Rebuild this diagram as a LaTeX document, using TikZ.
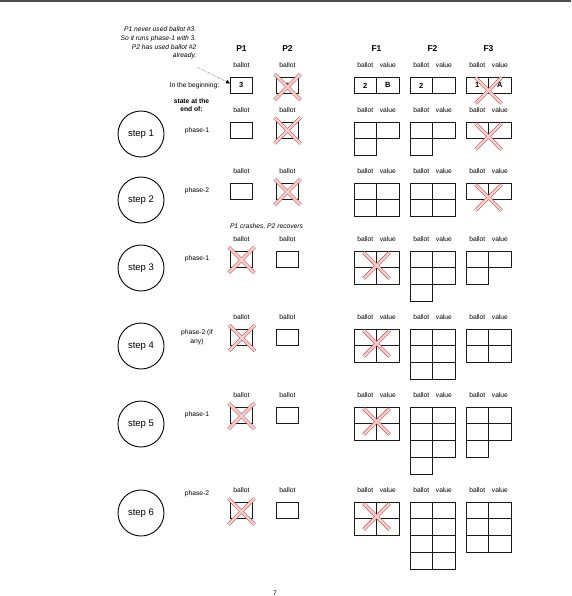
\documentclass[tikz,border=0pt]{standalone}
\usepackage{fontspec}
\setmainfont{Liberation Sans}
\usetikzlibrary{arrows.meta}
\definecolor{vetofill}{HTML}{F8CECC}
\definecolor{vetoline}{HTML}{B85450}

% one slot of a process or of a file
\newcommand{\mkslot}[4]{\node[slot] (#1) at (#2,#3) {#4};}
% one row of a file: ballot and value
\newcommand{\mkrow}[5]{\node[slot] (#1b) at (#2,#3) {#4};
  \node[slot] (#1v) at (#2+22.6,#3) {#5};}
% red cross over a crashed store
\newcommand{\veto}[2]{\draw[vetomark] (#1-13,#2-13) -- (#1+13,#2+13) (#1-13,#2+13) -- (#1+13,#2-13);}
% names over the slots of one step
\newcommand{\slotnames}[2]{%
  \node[tag] (p1n#1) at (241.5,#2) {ballot};
  \node[tag] (p2n#1) at (287.5,#2) {ballot};
  \node[tag] (f1n#1) at (365.3,#2) {ballot};
  \node[tag] (f1m#1) at (387.9,#2) {value};
  \node[tag] (f2n#1) at (421.3,#2) {ballot};
  \node[tag] (f2m#1) at (443.9,#2) {value};
  \node[tag] (f3n#1) at (477.3,#2) {ballot};
  \node[tag] (f3m#1) at (499.9,#2) {value};}

\tikzset{
  slot/.style={draw=black!90, line width=0.9pt, anchor=north west, minimum width=22.6pt, minimum height=16.8pt, inner sep=0pt, outer sep=0pt, font=\bfseries\fontsize{7.5}{9}\selectfont},
  tag/.style={inner sep=0pt, font=\fontsize{6.7}{8.6}\selectfont},
  stepnode/.style={draw, circle, line width=0.9pt, minimum size=46pt, inner sep=0pt, font=\fontsize{9.5}{11}\selectfont},
  head/.style={inner sep=0pt, font=\bfseries\fontsize{8.5}{10}\selectfont},
  vetomark/.style={draw=vetoline, line width=0.55pt, double=vetofill, double distance=2.4pt},
}

\begin{document}
\begin{tikzpicture}[x=1pt,y=-1pt]
		%%%%% START %%%%%
		\useasboundingbox (0,0) rectangle (571,596);
		\fill[black!70] (0,0) rectangle (571,2.5);
		
		\node[tag, font=\itshape\fontsize{6.7}{8.6}\selectfont, align=right, anchor=east] (note) at (196.5,43) {P1 never used ballot \#3.\\So it runs phase-1 with 3.\\P2 has used ballot \#2\\already.};
		\node[tag, anchor=east] (start) at (219.5,86) {In the beginning:};
		\node[tag, font=\bfseries\fontsize{6.7}{7.8}\selectfont, align=center] (endof) at (191.5,105.5) {state at the\\end of:};
		
		\node[head] (hp1) at (241.5,49) {P1};
		\node[head] (hp2) at (287.5,49) {P2};
		\node[head] (hf1) at (376.5,49) {F1};
		\node[head] (hf2) at (432.5,49) {F2};
		\node[head] (hf3) at (488.5,49) {F3};
		
		% in the beginning
		\slotnames{0}{65.5}
		\mkslot{p1s0}{230}{77}{3}
		\mkslot{p2s0}{276}{77}{2}
		\mkrow{f1s0}{354}{77}{2}{B}
		\mkrow{f2s0}{410}{77}{2}{}
		\mkrow{f3s0}{466}{77}{1}{A}
		\veto{287.5}{87}
		\veto{488.5}{90.5}
		\coordinate (notetail) at (197,67);
		\draw[densely dotted, -{Triangle[length=4pt,width=3.5pt]}] (notetail) -- ([yshift=2pt]p1s0.west);
		
		% step 1
		\node[stepnode] (step1) at (141,134) {step 1};
		\node[tag] (ph1) at (197,131) {phase-1};
		\slotnames{1}{110.5}
		\mkslot{p1s1}{230}{122}{}
		\mkslot{p2s1}{276}{122}{}
		\mkrow{f1s1r1}{354}{122}{}{}
		\mkslot{f1s1r2b}{354}{138.8}{}
		\mkrow{f2s1r1}{410}{122}{}{}
		\mkslot{f2s1r2b}{410}{138.8}{}
		\mkrow{f3s1r1}{466}{122}{}{}
		\veto{287.5}{130.5}
		\veto{488.5}{136.5}
		
		% step 2
		\node[stepnode] (step2) at (141,200) {step 2};
		\node[tag] (ph2) at (197,191) {phase-2};
		\slotnames{2}{171.5}
		\mkslot{p1s2}{230}{183}{}
		\mkslot{p2s2}{276}{183}{}
		\mkrow{f1s2r1}{354}{183}{}{}
		\mkrow{f1s2r2}{354}{199.8}{}{}
		\mkrow{f2s2r1}{410}{183}{}{}
		\mkrow{f2s2r2}{410}{199.8}{}{}
		\mkrow{f3s2r1}{466}{183}{}{}
		\veto{287.5}{192}
		\veto{488.5}{197.5}
		
		\node[tag, font=\itshape\fontsize{6.7}{8.6}\selectfont] (crash) at (266.5,227) {P1 crashes, P2 recovers};
		
		% step 3
		\node[stepnode] (step3) at (141,268) {step 3};
		\node[tag] (ph3) at (197,259) {phase-1};
		\slotnames{3}{239.5}
		\mkslot{p1s3}{230}{251}{}
		\mkslot{p2s3}{276}{251}{}
		\mkrow{f1s3r1}{354}{251}{}{}
		\mkrow{f1s3r2}{354}{267.8}{}{}
		\mkrow{f2s3r1}{410}{251}{}{}
		\mkrow{f2s3r2}{410}{267.8}{}{}
		\mkslot{f2s3r3b}{410}{284.6}{}
		\mkrow{f3s3r1}{466}{251}{}{}
		\mkslot{f3s3r2b}{466}{267.8}{}
		\veto{241.5}{260}
		\veto{376.7}{265.5}
		
		% step 4
		\node[stepnode] (step4) at (141,346) {step 4};
		\node[tag, align=center] (ph4) at (197,337.5) {phase-2 (if\\any)};
		\slotnames{4}{317.5}
		\mkslot{p1s4}{230}{329}{}
		\mkslot{p2s4}{276}{329}{}
		\mkrow{f1s4r1}{354}{329}{}{}
		\mkrow{f1s4r2}{354}{345.8}{}{}
		\mkrow{f2s4r1}{410}{329}{}{}
		\mkrow{f2s4r2}{410}{345.8}{}{}
		\mkrow{f2s4r3}{410}{362.6}{}{}
		\mkrow{f3s4r1}{466}{329}{}{}
		\mkrow{f3s4r2}{466}{345.8}{}{}
		\veto{242}{338}
		\veto{376.7}{343.5}
		
		% step 5
		\node[stepnode] (step5) at (141,424) {step 5};
		\node[tag] (ph5) at (197,415) {phase-1};
		\slotnames{5}{395.5}
		\mkslot{p1s5}{230}{407}{}
		\mkslot{p2s5}{276}{407}{}
		\mkrow{f1s5r1}{354}{407}{}{}
		\mkrow{f1s5r2}{354}{423.8}{}{}
		\mkrow{f2s5r1}{410}{407}{}{}
		\mkrow{f2s5r2}{410}{423.8}{}{}
		\mkrow{f2s5r3}{410}{440.6}{}{}
		\mkslot{f2s5r4b}{410}{457.4}{}
		\mkrow{f3s5r1}{466}{407}{}{}
		\mkrow{f3s5r2}{466}{423.8}{}{}
		\mkslot{f3s5r3b}{466}{440.6}{}
		\veto{241.5}{416}
		\veto{376.7}{421.5}
		
		% step 6
		\node[stepnode] (step6) at (141,513) {step 6};
		\node[tag] (ph6) at (197,494) {phase-2};
		\slotnames{6}{490.5}
		\mkslot{p1s6}{230}{502}{}
		\mkslot{p2s6}{276}{502}{}
		\mkrow{f1s6r1}{354}{502}{}{}
		\mkrow{f1s6r2}{354}{518.8}{}{}
		\mkrow{f2s6r1}{410}{502}{}{}
		\mkrow{f2s6r2}{410}{518.8}{}{}
		\mkrow{f2s6r3}{410}{535.6}{}{}
		\mkrow{f2s6r4}{410}{552.4}{}{}
		\mkrow{f3s6r1}{466}{502}{}{}
		\mkrow{f3s6r2}{466}{518.8}{}{}
		\mkrow{f3s6r3}{466}{535.6}{}{}
		\veto{241.5}{511.5}
		\veto{376.7}{516.5}
		
		\node[tag] (pageno) at (275,593) {7};
		%%%%% END %%%%%
\end{tikzpicture}
\end{document}
